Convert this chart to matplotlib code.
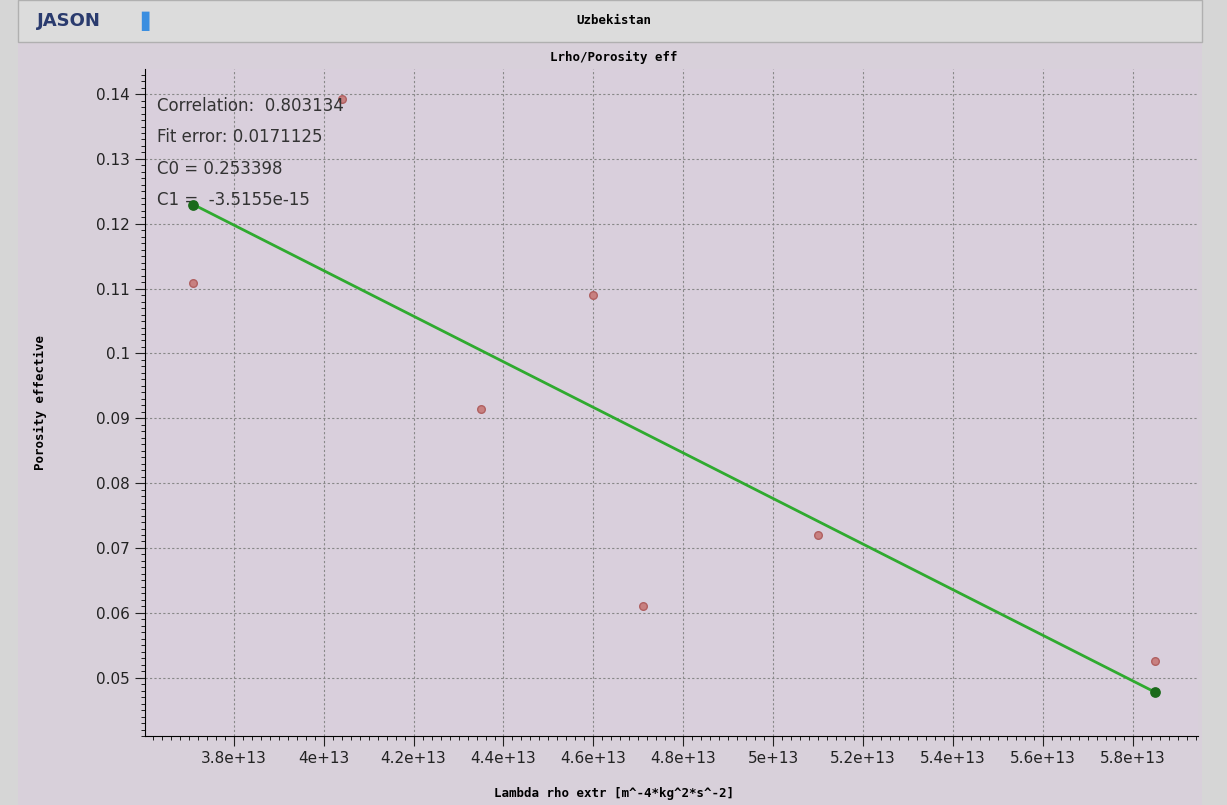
import matplotlib
matplotlib.use("Agg")
import matplotlib.pyplot as plt
import numpy as np
from matplotlib.ticker import MultipleLocator, FuncFormatter
from matplotlib.patches import Rectangle

x_vals = [3.71e13, 4.04e13, 4.35e13, 4.60e13, 4.71e13, 5.10e13, 5.85e13]
y_vals = [0.1108, 0.1392, 0.0915, 0.1090, 0.0610, 0.0720, 0.0525]
c0 = 0.253398
c1 = -3.5155e-15
fit_x = [3.71e13, 5.85e13]
stats = ["Correlation:  0.803134", "Fit error: 0.0171125", "C0 = 0.253398", "C1 =  -3.5155e-15"]

fig = plt.figure(figsize=(12.27, 8.05), dpi=100)
fig.patch.set_facecolor("#d6d6d6")
bg = fig.add_axes([0, 0, 1, 1], zorder=-10)
bg.set_xlim(0, 1); bg.set_ylim(0, 1); bg.axis("off")
bg.add_patch(Rectangle((0.015, 0.0), 0.965, 0.948, facecolor="#d8d0da", edgecolor="none"))
bg.add_patch(Rectangle((0.015, 0.948), 0.965, 0.052, facecolor="#dcdcdc", edgecolor="#b0b0b0", lw=1))
bg.text(0.03, 0.974, "JASON", fontsize=13, fontweight="bold", color="#2a3b6e", va="center")
bg.text(0.115, 0.974, "▌", fontsize=14, color="#3a8ee0", va="center")
bg.text(0.5, 0.974, "Uzbekistan", fontsize=9, fontweight="bold", family="DejaVu Sans Mono", ha="center", va="center")
bg.text(0.5, 0.928, "Lrho/Porosity eff", fontsize=9, fontweight="bold", family="DejaVu Sans Mono", ha="center", va="center")
bg.text(0.5, 0.01, "Lambda rho extr [m^-4*kg^2*s^-2]", fontsize=9, fontweight="bold", family="DejaVu Sans Mono", ha="center")
bg.text(0.028, 0.5, "Porosity effective", fontsize=9, fontweight="bold", family="DejaVu Sans Mono", rotation=90, va="center")

ax = fig.add_axes([0.118, 0.0857, 0.858, 0.828])
ax.set_facecolor("#d9cfdc")
ax.set_xlim(3.602e13, 5.944e13)
ax.set_ylim(0.041, 0.1438)
for s in ["top", "right"]:
    ax.spines[s].set_visible(False)
ax.xaxis.set_major_locator(MultipleLocator(2e12))
ax.xaxis.set_minor_locator(MultipleLocator(2e11))
ax.yaxis.set_major_locator(MultipleLocator(0.01))
ax.yaxis.set_minor_locator(MultipleLocator(0.001))
def xf(v, p):
    s = ("%.1f" % (v / 1e13)).rstrip("0").rstrip(".")
    return s + "e+13"
ax.xaxis.set_major_formatter(FuncFormatter(xf))
ax.yaxis.set_major_formatter(FuncFormatter(lambda v, p: ("%.2f" % v).rstrip("0").rstrip(".")))
ax.tick_params(which="major", length=7, labelsize=11, colors="#222222")
ax.tick_params(which="minor", length=3)
ax.grid(True, which="major", linestyle=(0, (2, 2)), color="#888888", lw=0.8)
ax.set_axisbelow(True)

ax.scatter(x_vals, y_vals, s=30, color="#c88080", edgecolor="#b06060", zorder=3)
fx = np.array(fit_x)
fy = c0 + c1 * fx
ax.plot(fx, fy, color="#2faa2f", lw=2, zorder=4)
ax.scatter(fx, fy, s=45, color="#1a6a1a", marker="o", zorder=5)

for i, t in enumerate(stats):
    ax.text(0.012, 0.945 - i * 0.047, t, transform=ax.transAxes, fontsize=12, color="#333333", va="center")

fig.savefig("out.png", dpi=100, facecolor=fig.get_facecolor())
